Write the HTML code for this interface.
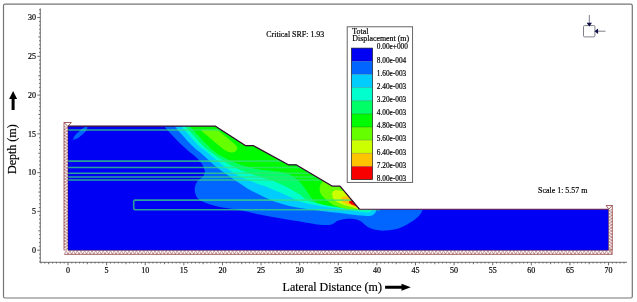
<!DOCTYPE html>
<html><head><meta charset="utf-8"><title>Total Displacement</title>
<style>
html,body{margin:0;padding:0;background:#fff;}
body{width:637px;height:302px;overflow:hidden;}
svg{display:block;}
text{font-family:"Liberation Serif",serif;fill:#000;stroke:#000;stroke-width:0.18px;}
</style></head><body>
<svg width="637" height="302" viewBox="0 0 637 302">
<rect x="0" y="0" width="637" height="302" fill="#fff"/>
<rect x="3.5" y="4.2" width="628.8" height="293.8" rx="1.5" fill="none" stroke="#757575" stroke-width="1.2"/>

<g stroke="#555" stroke-width="0.85" fill="none">
<path d="M40.3,8.4 V262.3 H627"/>
</g>
<path d="M39.1,261.83 h1.2 M39.1,257.95 h1.2 M39.1,254.08 h1.2 M37.3,250.20 h3.0 M39.1,246.32 h1.2 M39.1,242.44 h1.2 M39.1,238.57 h1.2 M39.1,234.69 h1.2 M38.4,230.81 h1.9 M39.1,226.94 h1.2 M39.1,223.06 h1.2 M39.1,219.18 h1.2 M39.1,215.30 h1.2 M37.3,211.42 h3.0 M39.1,207.55 h1.2 M39.1,203.67 h1.2 M39.1,199.79 h1.2 M39.1,195.91 h1.2 M38.4,192.04 h1.9 M39.1,188.16 h1.2 M39.1,184.28 h1.2 M39.1,180.40 h1.2 M39.1,176.53 h1.2 M37.3,172.65 h3.0 M39.1,168.77 h1.2 M39.1,164.89 h1.2 M39.1,161.02 h1.2 M39.1,157.14 h1.2 M38.4,153.26 h1.9 M39.1,149.38 h1.2 M39.1,145.51 h1.2 M39.1,141.63 h1.2 M39.1,137.75 h1.2 M37.3,133.88 h3.0 M39.1,130.00 h1.2 M39.1,126.12 h1.2 M39.1,122.24 h1.2 M39.1,118.36 h1.2 M38.4,114.49 h1.9 M39.1,110.61 h1.2 M39.1,106.73 h1.2 M39.1,102.85 h1.2 M39.1,98.98 h1.2 M37.3,95.10 h3.0 M39.1,91.22 h1.2 M39.1,87.34 h1.2 M39.1,83.47 h1.2 M39.1,79.59 h1.2 M38.4,75.71 h1.9 M39.1,71.83 h1.2 M39.1,67.96 h1.2 M39.1,64.08 h1.2 M39.1,60.20 h1.2 M37.3,56.32 h3.0 M39.1,52.45 h1.2 M39.1,48.57 h1.2 M39.1,44.69 h1.2 M39.1,40.81 h1.2 M38.4,36.94 h1.9 M39.1,33.06 h1.2 M39.1,29.18 h1.2 M39.1,25.30 h1.2 M39.1,21.43 h1.2 M37.3,17.55 h3.0 M39.1,13.67 h1.2 M39.1,9.79 h1.2 M40.97,262.3 v1.2 M44.83,262.3 v1.2 M48.70,262.3 v1.9 M52.56,262.3 v1.2 M56.42,262.3 v1.2 M60.28,262.3 v1.2 M64.14,262.3 v1.2 M68.00,262.3 v3.0 M71.86,262.3 v1.2 M75.72,262.3 v1.2 M79.58,262.3 v1.2 M83.44,262.3 v1.2 M87.31,262.3 v1.9 M91.17,262.3 v1.2 M95.03,262.3 v1.2 M98.89,262.3 v1.2 M102.75,262.3 v1.2 M106.61,262.3 v3.0 M110.47,262.3 v1.2 M114.33,262.3 v1.2 M118.19,262.3 v1.2 M122.05,262.3 v1.2 M125.92,262.3 v1.9 M129.78,262.3 v1.2 M133.64,262.3 v1.2 M137.50,262.3 v1.2 M141.36,262.3 v1.2 M145.22,262.3 v3.0 M149.08,262.3 v1.2 M152.94,262.3 v1.2 M156.80,262.3 v1.2 M160.66,262.3 v1.2 M164.53,262.3 v1.9 M168.39,262.3 v1.2 M172.25,262.3 v1.2 M176.11,262.3 v1.2 M179.97,262.3 v1.2 M183.83,262.3 v3.0 M187.69,262.3 v1.2 M191.55,262.3 v1.2 M195.41,262.3 v1.2 M199.27,262.3 v1.2 M203.14,262.3 v1.9 M207.00,262.3 v1.2 M210.86,262.3 v1.2 M214.72,262.3 v1.2 M218.58,262.3 v1.2 M222.44,262.3 v3.0 M226.30,262.3 v1.2 M230.16,262.3 v1.2 M234.02,262.3 v1.2 M237.88,262.3 v1.2 M241.75,262.3 v1.9 M245.61,262.3 v1.2 M249.47,262.3 v1.2 M253.33,262.3 v1.2 M257.19,262.3 v1.2 M261.05,262.3 v3.0 M264.91,262.3 v1.2 M268.77,262.3 v1.2 M272.63,262.3 v1.2 M276.49,262.3 v1.2 M280.36,262.3 v1.9 M284.22,262.3 v1.2 M288.08,262.3 v1.2 M291.94,262.3 v1.2 M295.80,262.3 v1.2 M299.66,262.3 v3.0 M303.52,262.3 v1.2 M307.38,262.3 v1.2 M311.24,262.3 v1.2 M315.10,262.3 v1.2 M318.97,262.3 v1.9 M322.83,262.3 v1.2 M326.69,262.3 v1.2 M330.55,262.3 v1.2 M334.41,262.3 v1.2 M338.27,262.3 v3.0 M342.13,262.3 v1.2 M345.99,262.3 v1.2 M349.85,262.3 v1.2 M353.71,262.3 v1.2 M357.57,262.3 v1.9 M361.44,262.3 v1.2 M365.30,262.3 v1.2 M369.16,262.3 v1.2 M373.02,262.3 v1.2 M376.88,262.3 v3.0 M380.74,262.3 v1.2 M384.60,262.3 v1.2 M388.46,262.3 v1.2 M392.32,262.3 v1.2 M396.19,262.3 v1.9 M400.05,262.3 v1.2 M403.91,262.3 v1.2 M407.77,262.3 v1.2 M411.63,262.3 v1.2 M415.49,262.3 v3.0 M419.35,262.3 v1.2 M423.21,262.3 v1.2 M427.07,262.3 v1.2 M430.93,262.3 v1.2 M434.80,262.3 v1.9 M438.66,262.3 v1.2 M442.52,262.3 v1.2 M446.38,262.3 v1.2 M450.24,262.3 v1.2 M454.10,262.3 v3.0 M457.96,262.3 v1.2 M461.82,262.3 v1.2 M465.68,262.3 v1.2 M469.54,262.3 v1.2 M473.41,262.3 v1.9 M477.27,262.3 v1.2 M481.13,262.3 v1.2 M484.99,262.3 v1.2 M488.85,262.3 v1.2 M492.71,262.3 v3.0 M496.57,262.3 v1.2 M500.43,262.3 v1.2 M504.29,262.3 v1.2 M508.15,262.3 v1.2 M512.02,262.3 v1.9 M515.88,262.3 v1.2 M519.74,262.3 v1.2 M523.60,262.3 v1.2 M527.46,262.3 v1.2 M531.32,262.3 v3.0 M535.18,262.3 v1.2 M539.04,262.3 v1.2 M542.90,262.3 v1.2 M546.76,262.3 v1.2 M550.62,262.3 v1.9 M554.49,262.3 v1.2 M558.35,262.3 v1.2 M562.21,262.3 v1.2 M566.07,262.3 v1.2 M569.93,262.3 v3.0 M573.79,262.3 v1.2 M577.65,262.3 v1.2 M581.51,262.3 v1.2 M585.37,262.3 v1.2 M589.24,262.3 v1.9 M593.10,262.3 v1.2 M596.96,262.3 v1.2 M600.82,262.3 v1.2 M604.68,262.3 v1.2 M608.54,262.3 v3.0 M612.40,262.3 v1.2 M616.26,262.3 v1.2 M620.12,262.3 v1.2 M623.98,262.3 v1.2" stroke="#444" stroke-width="0.8" fill="none"/>
<text x="35.9" y="252.9" font-size="8" text-anchor="end">0</text>
<text x="35.9" y="214.1" font-size="8" text-anchor="end">5</text>
<text x="35.9" y="175.3" font-size="8" text-anchor="end">10</text>
<text x="35.9" y="136.6" font-size="8" text-anchor="end">15</text>
<text x="35.9" y="97.8" font-size="8" text-anchor="end">20</text>
<text x="35.9" y="59.0" font-size="8" text-anchor="end">25</text>
<text x="35.9" y="20.2" font-size="8" text-anchor="end">30</text>
<text x="68.0" y="273.2" font-size="8" text-anchor="middle">0</text>
<text x="106.6" y="273.2" font-size="8" text-anchor="middle">5</text>
<text x="145.2" y="273.2" font-size="8" text-anchor="middle">10</text>
<text x="183.8" y="273.2" font-size="8" text-anchor="middle">15</text>
<text x="222.4" y="273.2" font-size="8" text-anchor="middle">20</text>
<text x="261.1" y="273.2" font-size="8" text-anchor="middle">25</text>
<text x="299.7" y="273.2" font-size="8" text-anchor="middle">30</text>
<text x="338.3" y="273.2" font-size="8" text-anchor="middle">35</text>
<text x="376.9" y="273.2" font-size="8" text-anchor="middle">40</text>
<text x="415.5" y="273.2" font-size="8" text-anchor="middle">45</text>
<text x="454.1" y="273.2" font-size="8" text-anchor="middle">50</text>
<text x="492.7" y="273.2" font-size="8" text-anchor="middle">55</text>
<text x="531.3" y="273.2" font-size="8" text-anchor="middle">60</text>
<text x="569.9" y="273.2" font-size="8" text-anchor="middle">65</text>
<text x="608.5" y="273.2" font-size="8" text-anchor="middle">70</text>
<text x="282.6" y="290.6" font-size="12">Lateral Distance (m)</text>
<path d="M385.1,285.8 H401.5 V283.8 L410.8,287.3 L401.5,290.8 V288.8 H385.1 Z" fill="#000"/>
<text transform="translate(15.6,174) rotate(-90)" font-size="12">Depth (m)</text>
<path d="M11.6,109.9 V99 H9.1 L13.1,91 L17.1,99 H14.6 V109.9 Z" fill="#000"/>
<text x="266.3" y="37.3" font-size="7.95">Critical SRF: 1.93</text>
<text x="538" y="192.5" font-size="7.95">Scale 1: 5.57 m</text>
<g><rect x="583.5" y="25.6" width="11.4" height="11.3" rx="1" fill="#fff" stroke="#80808c" stroke-width="1"/><path d="M589.3,15 V23 M598,31.2 H605.5" stroke="#70707c" stroke-width="0.9" fill="none"/><path d="M586.6,22.8 H592 L589.3,26.4 Z M598.1,28.5 V33.9 L594.5,31.2 Z" fill="#10104a"/></g>
<defs><clipPath id="m"><path d="M68.0,126.3 L215.5,126.3 L245.7,145.7 L253.5,145.7 L288.4,164.8 L296.1,164.8 L332.4,186.2 L340.0,186.2 L359.6,209.3 L608.4,209.3 L608.4,250.3 L68.0,250.3 Z"/></clipPath></defs>
<g clip-path="url(#m)">
<rect x="60" y="120" width="560" height="140" fill="#0000f4"/>
<path d="M72.9,139.9 C73.2,139.2 73.5,137.4 74.5,136.0 C75.5,134.6 77.4,132.9 79.0,131.5 C80.6,130.1 82.6,128.2 84.0,127.5 C85.4,126.8 86.9,126.6 87.3,127.0 C87.7,127.4 87.2,128.8 86.5,130.0 C85.8,131.2 84.4,132.7 83.0,134.0 C81.6,135.3 79.7,137.0 78.0,138.0 C76.3,139.0 73.8,139.6 72.9,139.9 Z" fill="#0066ff"/>
<path d="M164.1,124.0 C164.1,124.4 161.2,122.8 164.1,126.3 C167.0,129.8 175.7,139.2 181.5,144.8 C187.3,150.4 195.0,155.8 198.8,160.0 C202.7,164.2 203.9,167.2 204.6,170.0 C205.3,172.8 204.2,174.6 203.0,176.5 C201.8,178.4 198.6,179.3 197.2,181.5 C195.8,183.7 194.6,187.1 194.7,189.8 C194.8,192.6 195.7,195.8 197.5,198.0 C199.3,200.2 202.1,201.4 205.8,202.9 C209.5,204.4 214.2,205.7 219.8,206.9 C225.4,208.1 233.0,208.6 239.6,209.9 C246.2,211.2 252.8,213.1 259.5,214.5 C266.2,215.9 273.2,217.1 280.0,218.3 C286.8,219.5 293.4,220.5 300.0,221.6 C306.6,222.7 314.5,224.3 319.8,224.8 C325.1,225.3 328.7,225.1 331.7,224.4 C334.7,223.7 335.4,221.7 337.7,220.8 C340.0,219.9 342.6,219.2 345.6,218.9 C348.6,218.7 352.9,218.8 355.5,219.3 C358.1,219.8 359.5,220.6 361.5,221.8 C363.5,223.1 365.2,225.5 367.5,226.8 C369.8,228.1 372.4,229.2 375.4,229.8 C378.4,230.4 381.3,230.9 385.4,230.6 C389.5,230.3 395.8,229.3 399.9,228.0 C404.0,226.7 406.8,224.7 409.8,222.8 C412.8,221.0 415.8,218.7 417.8,216.9 C419.8,215.1 420.9,213.2 421.7,211.9 C422.4,210.6 422.2,210.3 422.3,209.3 C422.4,208.3 422.5,206.6 422.5,206.0 L430.0,100.0 L164.0,100.0 Z" fill="#0066ff"/>
<path d="M174.8,124.0 C174.8,124.4 172.1,122.8 174.8,126.3 C177.5,129.8 186.7,140.2 191.2,144.8 C195.7,149.4 199.1,151.5 202.0,154.0 C204.9,156.5 206.5,158.2 208.5,160.0 C210.5,161.8 211.9,163.2 214.0,165.0 C216.1,166.8 218.5,168.7 221.0,170.5 C223.5,172.3 225.8,173.8 229.0,176.0 C232.2,178.2 236.5,181.2 240.0,183.5 C243.5,185.8 246.3,187.9 250.0,190.0 C253.7,192.1 258.3,194.2 262.0,196.0 C265.7,197.8 268.2,199.0 272.0,200.5 C275.8,202.0 280.3,203.6 285.0,204.8 C289.7,206.1 294.2,207.0 300.0,208.0 C305.8,209.0 313.3,209.9 320.0,210.7 C326.7,211.5 333.3,212.2 340.0,213.0 C346.7,213.8 354.8,215.1 360.0,215.6 C365.2,216.1 368.4,216.3 371.0,215.8 C373.6,215.3 374.7,213.6 375.5,212.5 C376.3,211.4 375.9,210.4 376.0,209.3 C376.1,208.2 376.0,206.6 376.0,206.0 L380.0,100.0 L174.0,100.0 Z" fill="#00ccff"/>
<path d="M181.5,124.0 C181.5,124.4 178.8,122.8 181.5,126.3 C184.2,129.8 194.0,140.9 197.8,144.8 C201.6,148.8 201.8,147.8 204.5,150.0 C207.2,152.2 211.4,155.8 214.0,158.0 C216.6,160.2 217.9,161.3 220.0,163.0 C222.1,164.7 223.2,165.7 226.5,167.9 C229.8,170.2 235.3,174.2 239.7,176.5 C244.1,178.8 248.8,180.4 253.0,182.0 C257.2,183.6 261.0,184.8 265.0,186.3 C269.0,187.9 273.2,189.7 277.0,191.3 C280.8,192.9 284.2,194.3 288.0,196.0 C291.8,197.7 294.7,199.8 300.0,201.5 C305.3,203.2 313.3,204.8 320.0,206.0 C326.7,207.2 334.2,208.2 340.0,209.0 C345.8,209.8 350.7,210.4 355.0,211.0 C359.3,211.6 363.3,212.4 366.0,212.5 C368.7,212.6 370.2,212.0 371.0,211.5 C371.8,211.0 371.0,210.2 371.0,209.3 C371.0,208.4 371.0,206.6 371.0,206.0 L375.0,100.0 L181.0,100.0 Z" fill="#00ffcc"/>
<path d="M185.6,124.0 C185.6,124.4 182.9,122.8 185.6,126.3 C188.3,129.8 198.3,140.9 202.0,144.8 C205.7,148.8 205.0,147.7 208.0,150.0 C211.0,152.3 215.7,155.8 219.9,158.6 C224.1,161.4 228.7,164.3 233.1,166.6 C237.5,168.9 242.0,170.8 246.4,172.5 C250.8,174.2 255.2,175.4 259.6,176.8 C264.0,178.2 268.5,179.3 273.0,181.0 C277.5,182.7 282.1,184.8 286.5,187.0 C290.9,189.2 296.1,192.2 299.7,194.5 C303.3,196.8 303.8,198.7 308.0,200.5 C312.2,202.3 318.8,204.0 325.0,205.3 C331.2,206.6 339.5,207.8 345.0,208.5 C350.5,209.2 355.2,210.0 358.0,209.6 C360.8,209.2 361.3,206.6 362.0,206.0 L366.0,100.0 L185.0,100.0 Z" fill="#00ff66"/>
<path d="M189.7,124.0 C189.7,124.4 186.8,122.8 189.7,126.3 C192.6,129.8 203.2,140.9 207.0,144.8 C210.8,148.8 210.4,148.2 212.6,150.0 C214.8,151.8 216.5,153.3 219.9,155.3 C223.3,157.3 228.7,160.0 233.1,161.9 C237.5,163.8 242.0,165.3 246.4,166.6 C250.8,167.9 255.2,168.8 259.6,169.5 C264.0,170.2 268.7,170.4 273.0,171.0 C277.3,171.6 281.7,171.8 285.5,173.0 C289.3,174.2 292.9,176.1 296.0,178.5 C299.1,180.9 301.7,184.1 304.3,187.4 C306.9,190.7 309.4,195.7 311.7,198.3 C314.0,200.9 314.9,201.8 318.0,203.0 C321.1,204.2 325.5,205.0 330.0,205.8 C334.5,206.6 340.3,207.4 345.0,208.0 C349.7,208.6 355.2,209.6 358.0,209.3 C360.8,209.0 361.3,206.6 362.0,206.0 L366.0,100.0 L189.0,100.0 Z" fill="#00fa00"/>
<path d="M201.6,129.7 C203.9,129.7 212.4,129.5 215.3,129.7 C218.2,129.9 216.6,129.4 218.8,130.9 C221.0,132.4 225.5,136.2 228.4,138.7 C231.3,141.2 234.6,144.1 236.1,145.8 C237.6,147.5 237.5,147.8 237.3,148.8 C237.1,149.8 236.0,151.2 234.9,151.8 C233.8,152.4 232.5,152.7 230.8,152.4 C229.1,152.1 227.2,151.5 224.8,150.0 C222.4,148.5 219.3,145.8 216.5,143.5 C213.7,141.2 210.5,138.3 208.1,136.3 C205.7,134.3 203.3,132.6 202.2,131.5 C201.1,130.4 201.7,130.0 201.6,129.7 Z" fill="#66ff00"/>
<path d="M324.5,178.0 C324.2,178.5 323.5,179.6 322.7,181.0 C321.9,182.4 320.3,184.6 319.9,186.6 C319.5,188.6 319.4,191.0 320.5,193.2 C321.6,195.4 324.2,197.9 326.5,199.9 C328.8,201.9 331.5,203.8 334.4,205.2 C337.3,206.6 340.6,207.5 343.7,208.2 C346.8,208.9 349.9,209.0 353.0,209.3 C356.1,209.6 360.5,209.9 362.0,210.0 L370.0,205.0 L370.0,170.0 Z" fill="#66ff00"/>
<path d="M347.0,189.0 C346.5,189.3 345.2,190.8 344.0,191.0 C342.8,191.2 341.1,190.6 339.7,190.4 C338.3,190.2 336.9,189.7 335.8,190.0 C334.7,190.3 333.4,191.1 332.8,192.0 C332.2,192.9 332.0,194.2 332.3,195.5 C332.6,196.8 332.7,198.4 334.4,199.9 C336.1,201.4 339.3,203.2 342.4,204.5 C345.5,205.8 349.9,206.5 353.0,207.4 C356.1,208.3 359.7,209.6 361.0,210.0 L370.0,205.0 L370.0,185.0 Z" fill="#ccff00"/>
<path d="M351.0,195.5 C350.6,195.7 349.8,196.3 348.5,196.5 C347.2,196.7 344.8,196.1 343.5,196.5 C342.2,196.9 341.1,198.2 340.8,199.0 C340.6,199.8 341.3,200.8 342.0,201.5 C342.7,202.2 343.2,202.4 345.0,203.2 C346.8,203.9 350.5,205.2 353.0,206.0 C355.5,206.8 358.8,207.7 360.0,208.0 L370.0,205.0 L370.0,190.0 Z" fill="#ffc400"/>
<path d="M353.0,199.0 C352.7,199.3 351.7,200.1 351.0,200.6 C350.3,201.1 349.2,201.4 349.0,201.9 C348.8,202.4 349.4,203.0 350.0,203.5 C350.6,204.0 351.6,204.4 352.5,204.8 C353.4,205.2 354.4,205.6 355.6,206.0 C356.9,206.4 359.3,206.8 360.0,207.0 L370.0,205.0 L370.0,195.0 Z" fill="#f80000"/>
<path d="M68,129.9 H380 M68,161.1 H380 M68,167.5 H380 M68,173.3 H380 M68,177.0 H380 M68,180.0 H380 M380,200.1 H135.2 Q133.7,200.1 133.7,201.6 V208.2 Q133.7,209.7 135.2,209.7 H380" stroke="#38e078" stroke-width="1.55" fill="none" opacity="0.72"/>
</g>
<path d="M68,126.2 H215.5 L245.7,145.7 H253.5 L288.4,164.8 H296.1 L332.4,186.2 H340 L359.6,209.3" fill="none" stroke="#380c30" stroke-width="1.3" stroke-linejoin="round"/>
<path d="M359.6,209.3 H608.4" fill="none" stroke="#6a1c4a" stroke-width="1.1"/>
<path d="M68,126.3 V250.3 H608.4 V209.3" fill="none" stroke="#3a0a50" stroke-width="0.6"/>
<path d="M64,126.30 L68,127.85 L64,129.40 M64,129.40 L68,130.95 L64,132.50 M64,132.50 L68,134.05 L64,135.60 M64,135.60 L68,137.15 L64,138.70 M64,138.70 L68,140.25 L64,141.80 M64,141.80 L68,143.35 L64,144.90 M64,144.90 L68,146.45 L64,148.00 M64,148.00 L68,149.55 L64,151.10 M64,151.10 L68,152.65 L64,154.20 M64,154.20 L68,155.75 L64,157.30 M64,157.30 L68,158.85 L64,160.40 M64,160.40 L68,161.95 L64,163.50 M64,163.50 L68,165.05 L64,166.60 M64,166.60 L68,168.15 L64,169.70 M64,169.70 L68,171.25 L64,172.80 M64,172.80 L68,174.35 L64,175.90 M64,175.90 L68,177.45 L64,179.00 M64,179.00 L68,180.55 L64,182.10 M64,182.10 L68,183.65 L64,185.20 M64,185.20 L68,186.75 L64,188.30 M64,188.30 L68,189.85 L64,191.40 M64,191.40 L68,192.95 L64,194.50 M64,194.50 L68,196.05 L64,197.60 M64,197.60 L68,199.15 L64,200.70 M64,200.70 L68,202.25 L64,203.80 M64,203.80 L68,205.35 L64,206.90 M64,206.90 L68,208.45 L64,210.00 M64,210.00 L68,211.55 L64,213.10 M64,213.10 L68,214.65 L64,216.20 M64,216.20 L68,217.75 L64,219.30 M64,219.30 L68,220.85 L64,222.40 M64,222.40 L68,223.95 L64,225.50 M64,225.50 L68,227.05 L64,228.60 M64,228.60 L68,230.15 L64,231.70 M64,231.70 L68,233.25 L64,234.80 M64,234.80 L68,236.35 L64,237.90 M64,237.90 L68,239.45 L64,241.00 M64,241.00 L68,242.55 L64,244.10 M64,244.10 L68,245.65 L64,247.20 M64,247.20 L68,248.75 L64,250.30 M612.3,209.30 L608.4,210.85 L612.3,212.40 M612.3,212.40 L608.4,213.95 L612.3,215.50 M612.3,215.50 L608.4,217.05 L612.3,218.60 M612.3,218.60 L608.4,220.15 L612.3,221.70 M612.3,221.70 L608.4,223.25 L612.3,224.80 M612.3,224.80 L608.4,226.35 L612.3,227.90 M612.3,227.90 L608.4,229.45 L612.3,231.00 M612.3,231.00 L608.4,232.55 L612.3,234.10 M612.3,234.10 L608.4,235.65 L612.3,237.20 M612.3,237.20 L608.4,238.75 L612.3,240.30 M612.3,240.30 L608.4,241.85 L612.3,243.40 M612.3,243.40 L608.4,244.95 L612.3,246.50 M612.3,246.50 L608.4,248.05 L612.3,249.60 M612.3,249.60 L608.4,249.95 L612.3,250.30 M64.30,254.3 L66.15,250.5 L68.00,254.3 M68.00,254.3 L69.85,250.5 L71.70,254.3 M71.70,254.3 L73.55,250.5 L75.40,254.3 M75.40,254.3 L77.25,250.5 L79.10,254.3 M79.10,254.3 L80.95,250.5 L82.80,254.3 M82.80,254.3 L84.65,250.5 L86.50,254.3 M86.50,254.3 L88.35,250.5 L90.20,254.3 M90.20,254.3 L92.05,250.5 L93.90,254.3 M93.90,254.3 L95.75,250.5 L97.60,254.3 M97.60,254.3 L99.45,250.5 L101.30,254.3 M101.30,254.3 L103.15,250.5 L105.00,254.3 M105.00,254.3 L106.85,250.5 L108.70,254.3 M108.70,254.3 L110.55,250.5 L112.40,254.3 M112.40,254.3 L114.25,250.5 L116.10,254.3 M116.10,254.3 L117.95,250.5 L119.80,254.3 M119.80,254.3 L121.65,250.5 L123.50,254.3 M123.50,254.3 L125.35,250.5 L127.20,254.3 M127.20,254.3 L129.05,250.5 L130.90,254.3 M130.90,254.3 L132.75,250.5 L134.60,254.3 M134.60,254.3 L136.45,250.5 L138.30,254.3 M138.30,254.3 L140.15,250.5 L142.00,254.3 M142.00,254.3 L143.85,250.5 L145.70,254.3 M145.70,254.3 L147.55,250.5 L149.40,254.3 M149.40,254.3 L151.25,250.5 L153.10,254.3 M153.10,254.3 L154.95,250.5 L156.80,254.3 M156.80,254.3 L158.65,250.5 L160.50,254.3 M160.50,254.3 L162.35,250.5 L164.20,254.3 M164.20,254.3 L166.05,250.5 L167.90,254.3 M167.90,254.3 L169.75,250.5 L171.60,254.3 M171.60,254.3 L173.45,250.5 L175.30,254.3 M175.30,254.3 L177.15,250.5 L179.00,254.3 M179.00,254.3 L180.85,250.5 L182.70,254.3 M182.70,254.3 L184.55,250.5 L186.40,254.3 M186.40,254.3 L188.25,250.5 L190.10,254.3 M190.10,254.3 L191.95,250.5 L193.80,254.3 M193.80,254.3 L195.65,250.5 L197.50,254.3 M197.50,254.3 L199.35,250.5 L201.20,254.3 M201.20,254.3 L203.05,250.5 L204.90,254.3 M204.90,254.3 L206.75,250.5 L208.60,254.3 M208.60,254.3 L210.45,250.5 L212.30,254.3 M212.30,254.3 L214.15,250.5 L216.00,254.3 M216.00,254.3 L217.85,250.5 L219.70,254.3 M219.70,254.3 L221.55,250.5 L223.40,254.3 M223.40,254.3 L225.25,250.5 L227.10,254.3 M227.10,254.3 L228.95,250.5 L230.80,254.3 M230.80,254.3 L232.65,250.5 L234.50,254.3 M234.50,254.3 L236.35,250.5 L238.20,254.3 M238.20,254.3 L240.05,250.5 L241.90,254.3 M241.90,254.3 L243.75,250.5 L245.60,254.3 M245.60,254.3 L247.45,250.5 L249.30,254.3 M249.30,254.3 L251.15,250.5 L253.00,254.3 M253.00,254.3 L254.85,250.5 L256.70,254.3 M256.70,254.3 L258.55,250.5 L260.40,254.3 M260.40,254.3 L262.25,250.5 L264.10,254.3 M264.10,254.3 L265.95,250.5 L267.80,254.3 M267.80,254.3 L269.65,250.5 L271.50,254.3 M271.50,254.3 L273.35,250.5 L275.20,254.3 M275.20,254.3 L277.05,250.5 L278.90,254.3 M278.90,254.3 L280.75,250.5 L282.60,254.3 M282.60,254.3 L284.45,250.5 L286.30,254.3 M286.30,254.3 L288.15,250.5 L290.00,254.3 M290.00,254.3 L291.85,250.5 L293.70,254.3 M293.70,254.3 L295.55,250.5 L297.40,254.3 M297.40,254.3 L299.25,250.5 L301.10,254.3 M301.10,254.3 L302.95,250.5 L304.80,254.3 M304.80,254.3 L306.65,250.5 L308.50,254.3 M308.50,254.3 L310.35,250.5 L312.20,254.3 M312.20,254.3 L314.05,250.5 L315.90,254.3 M315.90,254.3 L317.75,250.5 L319.60,254.3 M319.60,254.3 L321.45,250.5 L323.30,254.3 M323.30,254.3 L325.15,250.5 L327.00,254.3 M327.00,254.3 L328.85,250.5 L330.70,254.3 M330.70,254.3 L332.55,250.5 L334.40,254.3 M334.40,254.3 L336.25,250.5 L338.10,254.3 M338.10,254.3 L339.95,250.5 L341.80,254.3 M341.80,254.3 L343.65,250.5 L345.50,254.3 M345.50,254.3 L347.35,250.5 L349.20,254.3 M349.20,254.3 L351.05,250.5 L352.90,254.3 M352.90,254.3 L354.75,250.5 L356.60,254.3 M356.60,254.3 L358.45,250.5 L360.30,254.3 M360.30,254.3 L362.15,250.5 L364.00,254.3 M364.00,254.3 L365.85,250.5 L367.70,254.3 M367.70,254.3 L369.55,250.5 L371.40,254.3 M371.40,254.3 L373.25,250.5 L375.10,254.3 M375.10,254.3 L376.95,250.5 L378.80,254.3 M378.80,254.3 L380.65,250.5 L382.50,254.3 M382.50,254.3 L384.35,250.5 L386.20,254.3 M386.20,254.3 L388.05,250.5 L389.90,254.3 M389.90,254.3 L391.75,250.5 L393.60,254.3 M393.60,254.3 L395.45,250.5 L397.30,254.3 M397.30,254.3 L399.15,250.5 L401.00,254.3 M401.00,254.3 L402.85,250.5 L404.70,254.3 M404.70,254.3 L406.55,250.5 L408.40,254.3 M408.40,254.3 L410.25,250.5 L412.10,254.3 M412.10,254.3 L413.95,250.5 L415.80,254.3 M415.80,254.3 L417.65,250.5 L419.50,254.3 M419.50,254.3 L421.35,250.5 L423.20,254.3 M423.20,254.3 L425.05,250.5 L426.90,254.3 M426.90,254.3 L428.75,250.5 L430.60,254.3 M430.60,254.3 L432.45,250.5 L434.30,254.3 M434.30,254.3 L436.15,250.5 L438.00,254.3 M438.00,254.3 L439.85,250.5 L441.70,254.3 M441.70,254.3 L443.55,250.5 L445.40,254.3 M445.40,254.3 L447.25,250.5 L449.10,254.3 M449.10,254.3 L450.95,250.5 L452.80,254.3 M452.80,254.3 L454.65,250.5 L456.50,254.3 M456.50,254.3 L458.35,250.5 L460.20,254.3 M460.20,254.3 L462.05,250.5 L463.90,254.3 M463.90,254.3 L465.75,250.5 L467.60,254.3 M467.60,254.3 L469.45,250.5 L471.30,254.3 M471.30,254.3 L473.15,250.5 L475.00,254.3 M475.00,254.3 L476.85,250.5 L478.70,254.3 M478.70,254.3 L480.55,250.5 L482.40,254.3 M482.40,254.3 L484.25,250.5 L486.10,254.3 M486.10,254.3 L487.95,250.5 L489.80,254.3 M489.80,254.3 L491.65,250.5 L493.50,254.3 M493.50,254.3 L495.35,250.5 L497.20,254.3 M497.20,254.3 L499.05,250.5 L500.90,254.3 M500.90,254.3 L502.75,250.5 L504.60,254.3 M504.60,254.3 L506.45,250.5 L508.30,254.3 M508.30,254.3 L510.15,250.5 L512.00,254.3 M512.00,254.3 L513.85,250.5 L515.70,254.3 M515.70,254.3 L517.55,250.5 L519.40,254.3 M519.40,254.3 L521.25,250.5 L523.10,254.3 M523.10,254.3 L524.95,250.5 L526.80,254.3 M526.80,254.3 L528.65,250.5 L530.50,254.3 M530.50,254.3 L532.35,250.5 L534.20,254.3 M534.20,254.3 L536.05,250.5 L537.90,254.3 M537.90,254.3 L539.75,250.5 L541.60,254.3 M541.60,254.3 L543.45,250.5 L545.30,254.3 M545.30,254.3 L547.15,250.5 L549.00,254.3 M549.00,254.3 L550.85,250.5 L552.70,254.3 M552.70,254.3 L554.55,250.5 L556.40,254.3 M556.40,254.3 L558.25,250.5 L560.10,254.3 M560.10,254.3 L561.95,250.5 L563.80,254.3 M563.80,254.3 L565.65,250.5 L567.50,254.3 M567.50,254.3 L569.35,250.5 L571.20,254.3 M571.20,254.3 L573.05,250.5 L574.90,254.3 M574.90,254.3 L576.75,250.5 L578.60,254.3 M578.60,254.3 L580.45,250.5 L582.30,254.3 M582.30,254.3 L584.15,250.5 L586.00,254.3 M586.00,254.3 L587.85,250.5 L589.70,254.3 M589.70,254.3 L591.55,250.5 L593.40,254.3 M593.40,254.3 L595.25,250.5 L597.10,254.3 M597.10,254.3 L598.95,250.5 L600.80,254.3 M600.80,254.3 L602.65,250.5 L604.50,254.3 M604.50,254.3 L606.35,250.5 L608.20,254.3 M608.20,254.3 L610.05,250.5 L611.90,254.3 M611.90,254.3 L612.10,250.5 L612.30,254.3" fill="none" stroke="#8f3c3c" stroke-width="0.5" stroke-linejoin="round"/>
<path d="M64,122.5 V250.3 M612.3,205.5 V250.3 M64.3,254.3 H612.3 M63.9,122.5 H71.4 L67.9,126.3 Z M606.1,205.5 H612.3 L608.8,209.1 Z" fill="none" stroke="#8a3030" stroke-width="0.75" stroke-linejoin="round"/>
<rect x="347.2" y="26.8" width="65.4" height="155.6" fill="#fff" stroke="#555" stroke-width="0.9"/>
<text x="352.3" y="34.3" font-size="7.9">Total</text>
<text x="352.3" y="41.2" font-size="7.9">Displacement (m)</text>
<rect x="351.4" y="48.10" width="21.2" height="13.20" fill="#0000f4"/>
<rect x="351.4" y="61.25" width="21.2" height="13.20" fill="#0066ff"/>
<rect x="351.4" y="74.40" width="21.2" height="13.20" fill="#00ccff"/>
<rect x="351.4" y="87.55" width="21.2" height="13.20" fill="#00ffcc"/>
<rect x="351.4" y="100.70" width="21.2" height="13.20" fill="#00ff66"/>
<rect x="351.4" y="113.85" width="21.2" height="13.20" fill="#00fa00"/>
<rect x="351.4" y="127.00" width="21.2" height="13.20" fill="#66ff00"/>
<rect x="351.4" y="140.15" width="21.2" height="13.20" fill="#ccff00"/>
<rect x="351.4" y="153.30" width="21.2" height="13.20" fill="#ffc400"/>
<rect x="351.4" y="166.45" width="21.2" height="13.20" fill="#f80000"/>
<path d="M351.4,61.25 h21.2 M351.4,74.40 h21.2 M351.4,87.55 h21.2 M351.4,100.70 h21.2 M351.4,113.85 h21.2 M351.4,127.00 h21.2 M351.4,140.15 h21.2 M351.4,153.30 h21.2 M351.4,166.45 h21.2" stroke="#223" stroke-width="0.4" opacity="0.6"/>
<rect x="351.4" y="48.1" width="21.2" height="131.50" fill="none" stroke="#222" stroke-width="0.7"/>
<text x="376.8" y="49.40" font-size="7.3">0.00e+000</text>
<text x="376.8" y="62.55" font-size="7.3">8.00e-004</text>
<text x="376.8" y="75.70" font-size="7.3">1.60e-003</text>
<text x="376.8" y="88.85" font-size="7.3">2.40e-003</text>
<text x="376.8" y="102.00" font-size="7.3">3.20e-003</text>
<text x="376.8" y="115.15" font-size="7.3">4.00e-003</text>
<text x="376.8" y="128.30" font-size="7.3">4.80e-003</text>
<text x="376.8" y="141.45" font-size="7.3">5.60e-003</text>
<text x="376.8" y="154.60" font-size="7.3">6.40e-003</text>
<text x="376.8" y="167.75" font-size="7.3">7.20e-003</text>
<text x="376.8" y="180.90" font-size="7.3">8.00e-003</text>
</svg></body></html>
